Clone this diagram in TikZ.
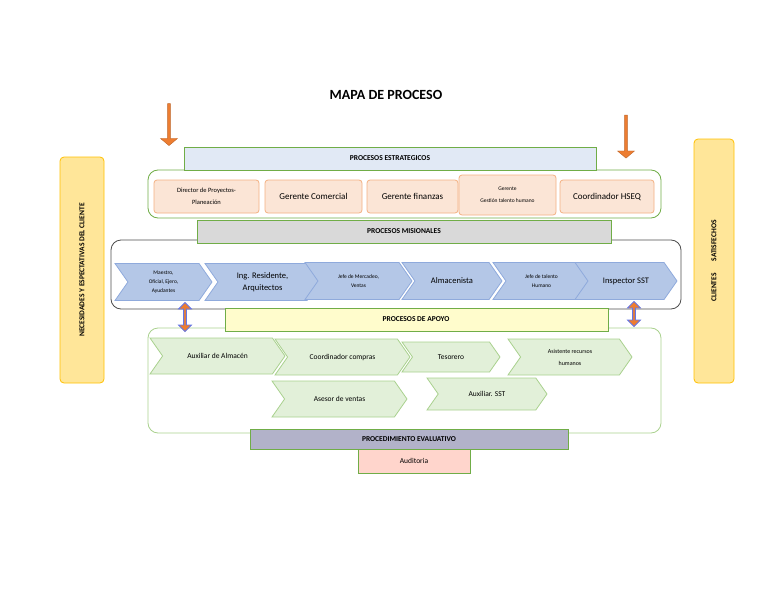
\documentclass[tikz,border=0pt]{standalone}
\usepackage{fontspec}
\setmainfont{Carlito}
\usetikzlibrary{shapes.symbols,shapes.arrows}
\definecolor{gbord}{HTML}{70AD47}
\definecolor{obord}{HTML}{F4B183}
\definecolor{ofill}{HTML}{FBE5D6}
\definecolor{bfill}{HTML}{B4C7E7}
\definecolor{bbord}{HTML}{8FAADC}
\definecolor{gfill}{HTML}{E2F0D9}
\definecolor{gbord2}{HTML}{A9D18E}
\definecolor{arr}{HTML}{ED7D31}
\definecolor{yfill}{HTML}{FFE699}
\definecolor{ybord}{HTML}{FFC000}
\begin{document}
\begin{tikzpicture}[x=1pt,y=-1pt,
 hdr/.style={draw=gbord,line width=0.8pt,font=\bfseries\fontsize{7.5}{9}\selectfont,inner sep=0pt},
 obox/.style={draw=obord,fill=ofill,line width=0.8pt,rounded corners=3pt,align=center,inner sep=1pt},
 cont/.style={rounded corners=10pt,line width=0.8pt},
 mis/.style={signal,signal to=east,signal from=west,signal pointer angle=110,draw=bbord,fill=bfill,line width=0.8pt,align=center,inner sep=1pt,minimum height=37pt},
 apo/.style={signal,signal to=east,signal from=west,signal pointer angle=110,draw=gbord2,fill=gfill,line width=0.8pt,align=center,inner sep=1pt,minimum height=36pt},
 side/.style={draw=ybord,fill=yfill,line width=0.8pt,rounded corners=4pt,inner sep=0pt},
 downarr/.style={single arrow,shape border rotate=270,draw=arr!80!black,fill=arr,minimum width=17pt,single arrow head extend=1pt,single arrow tip angle=100,inner sep=0pt},
 dbl/.style={double arrow,shape border rotate=90,draw=bbord!70!blue,fill=arr,minimum width=13pt,double arrow head extend=1.5pt,inner sep=0pt,line width=0.8pt}
]
\useasboundingbox (0,0) rectangle (768,594);
\node[font=\bfseries\fontsize{14}{16}\selectfont] (title) at (386,95) {MAPA DE PROCESO};
\node[downarr,minimum height=42pt] (a1) at (169,124) {};
\node[downarr,minimum height=43pt] (a2) at (626,136) {};
% side boxes
\draw[side] (60,157) rectangle (104,383);
\node[rotate=90,font=\bfseries\fontsize{7.5}{9}\selectfont] (nec) at (82,270) {NECESIDADES Y ESPECTATIVAS DEL CLIENTE};
\draw[side] (694,139) rectangle (734,383);
\node[rotate=90,font=\bfseries\fontsize{7.5}{9}\selectfont] (cli) at (714,261) {CLIENTES\hspace{12pt}SATISFECHOS};
% strategic
\draw[cont,draw=gbord,fill=white] (148,170) rectangle (661,218);
\draw[hdr,fill=blue!10!cyan!6!white,fill=bfill!40] (184,147) rectangle (596,170);
\node[font=\bfseries\fontsize{7.5}{9}\selectfont] (est) at (390,158) {PROCESOS ESTRATEGICOS};
\node[obox,minimum width=105pt,minimum height=33pt,font=\fontsize{6.5}{12}\selectfont] (e1) at (206.5,196.5) {Director de Proyectos-\\Planeación};
\node[obox,minimum width=97pt,minimum height=33pt,font=\fontsize{9}{11}\selectfont] (e2) at (313.5,196.5) {Gerente Comercial};
\node[obox,minimum width=91pt,minimum height=33pt,font=\fontsize{9}{11}\selectfont] (e3) at (412.5,196.5) {Gerente finanzas};
\node[obox,minimum width=97pt,minimum height=40pt,font=\fontsize{5.5}{12}\selectfont] (e4) at (507.5,195) {Gerente\\Gestión talento humano};
\node[obox,minimum width=94pt,minimum height=33pt,font=\fontsize{9}{11}\selectfont] (e5) at (607,196.5) {Coordinador HSEQ};
% misionales
\draw[cont,draw=black!70] (111,240) rectangle (681,309);
\draw[hdr,fill=black!15] (197,220) rectangle (611,243);
\node[font=\bfseries\fontsize{7.5}{9}\selectfont] (mh) at (404,231.5) {PROCESOS MISIONALES};
\node[mis,minimum width=97pt,font=\fontsize{5.5}{9}\selectfont] (m1) at (163.5,282) {Maestro,\\Oficial, Ejero,\\Ayudantes};
\node[mis,minimum width=115pt,font=\fontsize{8.5}{12}\selectfont] (m2) at (262.5,282) {Ing. Residente,\\Arquitectos};
\node[mis,minimum width=107pt,font=\fontsize{5.5}{9}\selectfont] (m3) at (358.5,281) {Jefe de Mercadeo,\\Ventas};
\node[mis,minimum width=100pt,font=\fontsize{8.5}{11}\selectfont] (m4) at (452,281) {Almacenista};
\node[mis,minimum width=97pt,font=\fontsize{5.5}{9}\selectfont] (m5) at (541.5,281) {Jefe de talento\\Humano};
\node[mis,minimum width=102pt,font=\fontsize{8.5}{11}\selectfont] (m6) at (626,281) {Inspector SST};
% apoyo
\draw[cont,draw=gbord2] (148,328) rectangle (661,433);
\draw[hdr,fill=yellow!20] (225,308) rectangle (608,331);
\node[font=\bfseries\fontsize{7.5}{9}\selectfont] (ah) at (416,319.5) {PROCESOS DE APOYO};
\node[dbl,minimum height=29pt] (d1) at (185,317) {};
\node[dbl,minimum height=25pt] (d2) at (634,314) {};
\node[apo,minimum width=135pt,font=\fontsize{7.5}{10}\selectfont] (p1) at (217.5,356) {Auxiliar de Almacén};
\node[apo,minimum width=135pt,font=\fontsize{7.5}{10}\selectfont] (p2) at (342.5,357) {Coordinador compras};
\node[apo,minimum width=98pt,minimum height=30pt,font=\fontsize{7.5}{10}\selectfont] (p3) at (451,357) {Tesorero};
\node[apo,minimum width=124pt,font=\fontsize{6}{12}\selectfont] (p4) at (570,357) {Asistente recursos\\humanos};
\node[apo,minimum width=135pt,font=\fontsize{7.5}{10}\selectfont] (p5) at (339.5,399) {Asesor de ventas};
\node[apo,minimum width=120pt,minimum height=32pt,font=\fontsize{7.5}{10}\selectfont] (p6) at (487,394) {Auxiliar. SST};
% evaluativo
\draw[hdr,fill=black!10!blue!20!gray!50] (250,429) rectangle (568,449);
\node[font=\bfseries\fontsize{7.5}{9}\selectfont] (ev) at (409,439) {PROCEDIMIENTO EVALUATIVO};
\node[draw=gbord,fill=orange!35!red!20!white,line width=0.8pt,minimum width=112pt,minimum height=24pt,font=\fontsize{7.5}{9}\selectfont] (aud) at (414,461) {Auditoria};
\end{tikzpicture}
\end{document}
